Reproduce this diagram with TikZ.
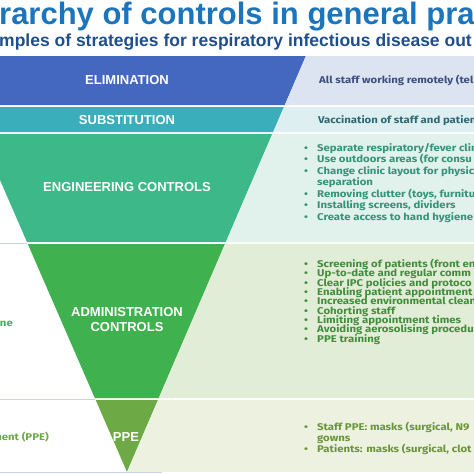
\documentclass[tikz,border=0pt]{standalone}
\usepackage{fontspec}
\setmainfont{Liberation Sans}
\newfontfamily\fira{Fira Sans}[FakeStretch=1.16]
\definecolor{titlec}{HTML}{1C75BC}
\definecolor{subtc}{HTML}{1F4E8C}
\definecolor{elimc}{HTML}{4468BF}
\definecolor{subc}{HTML}{3AAEBA}
\definecolor{engc}{HTML}{3DB889}
\definecolor{admc}{HTML}{3FB14F}
\definecolor{ppec}{HTML}{6DAA45}
\definecolor{elimr}{HTML}{DDE4F1}
\definecolor{subr}{HTML}{DDEFF1}
\definecolor{engr}{HTML}{E1F1EC}
\definecolor{admr}{HTML}{E2EDD8}
\definecolor{pper}{HTML}{ECF2DF}
\definecolor{elimt}{HTML}{3D4F7E}
\definecolor{subt}{HTML}{2F6873}
\definecolor{engt}{HTML}{359478}
\definecolor{admt}{HTML}{438E3C}
\definecolor{ppet}{HTML}{6C9438}
\definecolor{sepc}{HTML}{C9D4E6}
\tikzset{
  band/.style={font=\fontsize{13}{15}\selectfont\bfseries, text=white, inner sep=0pt, align=center},
  item/.style={font=\fira\fontsize{9.8}{11}\selectfont\bfseries, inner sep=0pt, anchor=base west},
  bul/.style={font=\fira\fontsize{9.8}{11}\selectfont\bfseries, inner sep=0pt, anchor=base},
  sepline/.style={draw=sepc, line width=1pt}
}
\begin{document}
\begin{tikzpicture}[x=1pt,y=-1pt]
\useasboundingbox (0,0) rectangle (474,474);
\clip (0,0) rectangle (474,474);
% title
\node[inner sep=0pt, anchor=base west, text=titlec, font=\fontsize{31}{33}\selectfont\bfseries] (title) at (-1,24.5) {rarchy of controls in general pra};
\node[inner sep=0pt, anchor=base west, text=subtc, font=\fontsize{17.5}{19}\selectfont\bfseries] (subtitle) at (-1,46) {mples of strategies for respiratory infectious disease out};
% funnel bands and right panels
\fill[elimc] (-5,56) -- (305.9,56) -- (284.8,105) -- (-5,105) -- cycle;
\fill[elimr] (305.9,56) -- (480,56) -- (480,105) -- (284.8,105) -- cycle;
\fill[subc] (-5,107) -- (283.95,107) -- (273.2,132) -- (-5,132) -- cycle;
\fill[subr] (283.95,107) -- (480,107) -- (480,132) -- (273.2,132) -- cycle;
\fill[engc] (-20,134) -- (272.3,134) -- (225.9,242) -- (26.95,242) -- cycle;
\fill[engr] (272.3,134) -- (480,134) -- (480,242) -- (225.9,242) -- cycle;
\fill[admc] (27.8,244) -- (225,244) -- (158.8,398) -- (94.8,398) -- cycle;
\fill[admr] (225,244) -- (480,244) -- (480,398) -- (158.8,398) -- cycle;
\fill[ppec] (95.7,400) -- (158,400) -- (127,472) -- cycle;
\fill[pper] (158,400) -- (480,400) -- (480,472) -- (127,472) -- cycle;
% left separator lines
\draw[sepline] (0,243) -- (27.4,243);
\draw[sepline] (0,399) -- (95.2,399);
\draw[sepline] (0,472.5) -- (162,472.5);
% band labels
\node[band] (elim) at (127,80) {ELIMINATION};
\node[band] (subs) at (127,120) {SUBSTITUTION};
\node[band] (eng) at (127,187) {ENGINEERING CONTROLS};
\node[band] (adm) at (127,320) {ADMINISTRATION\\CONTROLS};
\node[band] (ppe) at (126,437) {PPE};
% left labels
\node[inner sep=0pt, anchor=base east, text=admc, font=\fira\fontsize{9.8}{11}\selectfont\bfseries] (admlab) at (13,326.5) {ne};
\node[inner sep=0pt, anchor=base east, text=ppec, font=\fira\fontsize{9.8}{11}\selectfont\bfseries] (ppelab) at (49,440.5) {nent (PPE)};
% right texts
\node[item, text=elimt] (elimtx) at (319,83.5) {All staff working remotely (tel};
\node[item, text=subt] (subtx) at (318,123.5) {Vaccination of staff and patien};
% engineering list
\node[bul, text=engt] (eb1) at (306,151) {•};
\node[item, text=engt] (e1) at (317,151) {Separate respiratory/fever clin};
\node[bul, text=engt] (eb2) at (306,162.5) {•};
\node[item, text=engt] (e2) at (317,162.5) {Use outdoors areas (for consu};
\node[bul, text=engt] (eb3) at (306,174) {•};
\node[item, text=engt] (e3) at (317,174) {Change clinic layout for physic};
\node[item, text=engt] (e3b) at (317,185.5) {separation};
\node[bul, text=engt] (eb4) at (306,197) {•};
\node[item, text=engt] (e4) at (317,197) {Removing clutter (toys, furnitu};
\node[bul, text=engt] (eb5) at (306,208.5) {•};
\node[item, text=engt] (e5) at (317,208.5) {Installing screens, dividers};
\node[bul, text=engt] (eb6) at (306,220) {•};
\node[item, text=engt] (e6) at (317,220) {Create access to hand hygiene};
% administration list
\foreach \t [count=\i] in {Screening of patients (front en, Up-to-date and regular comm, Clear IPC policies and protoco, Enabling patient appointment b, Increased environmental clean, Cohorting staff, Limiting appointment times, Avoiding aerosolising procedu, PPE training}
  {\pgfmathsetmacro\yy{267.5+9.35*(\i-1)}
   \node[bul, text=admt] (ab\i) at (306,\yy) {•}; \node[item, text=admt] (a\i) at (317,\yy) {\t};}
% PPE list
\node[bul, text=ppet] (pb1) at (306,430) {•};
\node[item, text=ppet] (p1) at (317,430) {Staff PPE: masks (surgical, N9};
\node[item, text=ppet] (p2) at (317,441) {gowns};
\node[bul, text=ppet] (pb2) at (306,452) {•};
\node[item, text=ppet] (p3) at (317,452) {Patients: masks (surgical, clot};
\end{tikzpicture}
\end{document}
